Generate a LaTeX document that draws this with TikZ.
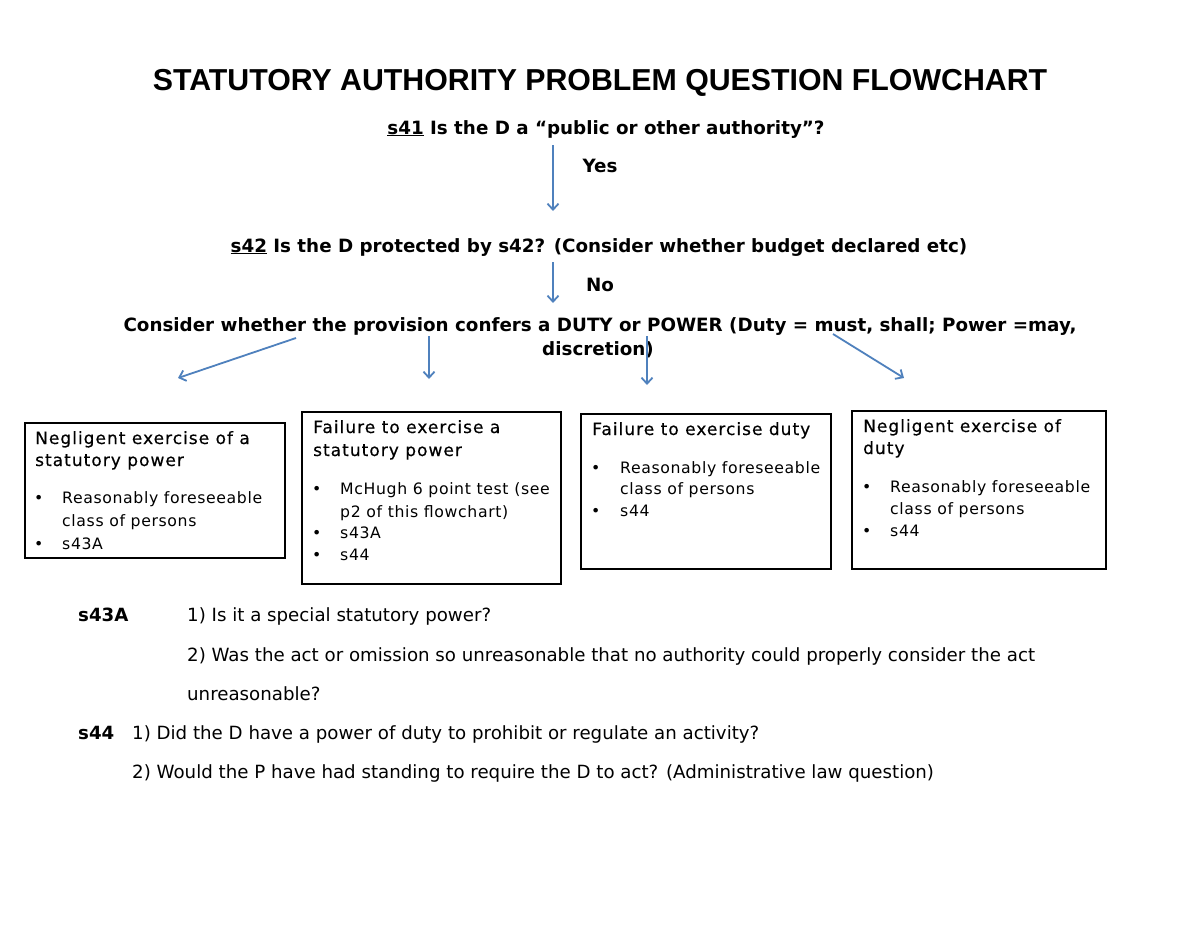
\documentclass[tikz,border=0pt]{standalone}
\usepackage{fontspec}
\setmainfont{DejaVu Sans}
\newfontfamily\titlefont{Liberation Sans}
\newfontfamily\boxfont[LetterSpace=4]{DejaVu Sans}
\newfontfamily\boxheadfont[LetterSpace=6,FakeBold=0.4]{DejaVu Sans}
\usetikzlibrary{arrows.meta}
\definecolor{arrblue}{HTML}{4F81BD}
\tikzset{
  txt/.style={inner sep=0pt, anchor=base west},
  ctxt/.style={inner sep=0pt, anchor=base},
  flowtxt/.style={ctxt, font=\fontsize{18.3}{21}\selectfont\bfseries},
  btxt/.style={txt, font=\fontsize{15.7}{18}\selectfont\boxfont},
  bhead/.style={txt, font=\fontsize{17}{19}\selectfont\boxheadfont},
  bottxt/.style={txt, font=\fontsize{18.2}{21}\selectfont},
  box/.style={draw=black, line width=1.6pt, anchor=north west, inner sep=0pt},
  arr/.style={draw=arrblue, line width=1.8pt, -{Straight Barb[length=6pt,width=11pt,line width=1.8pt]}},
}
\begin{document}
\begin{tikzpicture}[x=1pt,y=-1pt]
\useasboundingbox[fill=white] (0,0) rectangle (1200,927);

% title
\node[ctxt, font=\fontsize{30.3}{34}\selectfont\titlefont\bfseries] (title) at (600,90) {STATUTORY AUTHORITY PROBLEM QUESTION FLOWCHART};

% flow
\node[flowtxt] (q41) at (606,134) {\underline{s41} Is the D a “public or other authority”?};
\node[flowtxt] (yes) at (600,172) {Yes};
\node[flowtxt] (q42) at (599,252) {\underline{s42} Is the D protected by s42? (Consider whether budget declared etc)};
\node[flowtxt] (no) at (600,291) {No};
\node[flowtxt] (cons1) at (600,331) {Consider whether the provision confers a DUTY or POWER (Duty = must, shall; Power =may,};
\node[flowtxt] (cons2) at (598,355) {discretion)};

\coordinate (a1s) at (553,145);
\coordinate (a1e) at (553,211);
\coordinate (a2s) at (553,262);
\coordinate (a2e) at (553,303);
\coordinate (aAs) at (296,338);
\coordinate (aAe) at (178,378);
\coordinate (aBs) at (429,336);
\coordinate (aBe) at (429,379);
\coordinate (aCs) at (647,336);
\coordinate (aCe) at (647,385);
\coordinate (aDs) at (833,334);
\coordinate (aDe) at (904,378);

\draw[arr] (a1s) -- (a1e);
\draw[arr] (a2s) -- (a2e);
\draw[arr] (aAs) -- (aAe);
\draw[arr] (aBs) -- (aBe);
\draw[arr] (aCs) -- (aCe);
\draw[arr] (aDs) -- (aDe);

% boxes
\node[box, minimum width=260pt, minimum height=135pt] (b1) at (24,422) {};
\node[box, minimum width=259pt, minimum height=172pt] (b2) at (301,411) {};
\node[box, minimum width=250pt, minimum height=155pt] (b3) at (580,413) {};
\node[box, minimum width=254pt, minimum height=158pt] (b4) at (851,410) {};

% box 1
\node[bhead] (b1h1) at (35,444) {Negligent exercise of a};
\node[bhead] (b1h2) at (35,466) {statutory power};
\node[btxt] (b1d1) at (34,503) {•};
\node[btxt] (b1t1) at (62,503) {Reasonably foreseeable};
\node[btxt] (b1t2) at (62,526) {class of persons};
\node[btxt] (b1d2) at (34,549) {•};
\node[btxt] (b1t3) at (62,549) {s43A};

% box 2
\node[bhead] (b2h1) at (313,433) {Failure to exercise a};
\node[bhead] (b2h2) at (313,456) {statutory power};
\node[btxt] (b2d1) at (312,494) {•};
\node[btxt] (b2t1) at (340,494) {McHugh 6 point test (see};
\node[btxt] (b2t2) at (340,517) {p2 of this flowchart)};
\node[btxt] (b2d2) at (312,538) {•};
\node[btxt] (b2t3) at (340,538) {s43A};
\node[btxt] (b2d3) at (312,560) {•};
\node[btxt] (b2t4) at (340,560) {s44};

% box 3
\node[bhead] (b3h1) at (592,435) {Failure to exercise duty};
\node[btxt] (b3d1) at (591,473) {•};
\node[btxt] (b3t1) at (620,473) {Reasonably foreseeable};
\node[btxt] (b3t2) at (620,494) {class of persons};
\node[btxt] (b3d2) at (591,516) {•};
\node[btxt] (b3t3) at (620,516) {s44};

% box 4
\node[bhead] (b4h1) at (863,432) {Negligent exercise of};
\node[bhead] (b4h2) at (863,454) {duty};
\node[btxt] (b4d1) at (862,492) {•};
\node[btxt] (b4t1) at (890,492) {Reasonably foreseeable};
\node[btxt] (b4t2) at (890,514) {class of persons};
\node[btxt] (b4d2) at (862,536) {•};
\node[btxt] (b4t3) at (890,536) {s44};

% bottom notes
\node[bottxt, font=\fontsize{18.2}{21}\selectfont\bfseries] (s43a) at (78,621) {s43A};
\node[bottxt] (n1) at (187,621) {1) Is it a special statutory power?};
\node[bottxt] (n2) at (187,661) {2) Was the act or omission so unreasonable that no authority could properly consider the act};
\node[bottxt] (n3) at (187,700) {unreasonable?};
\node[bottxt, font=\fontsize{18.2}{21}\selectfont\bfseries] (s44) at (78,739) {s44};
\node[bottxt] (n4) at (132,739) {1) Did the D have a power of duty to prohibit or regulate an activity?};
\node[bottxt] (n5) at (132,778) {2) Would the P have had standing to require the D to act? (Administrative law question)};
\end{tikzpicture}
\end{document}
